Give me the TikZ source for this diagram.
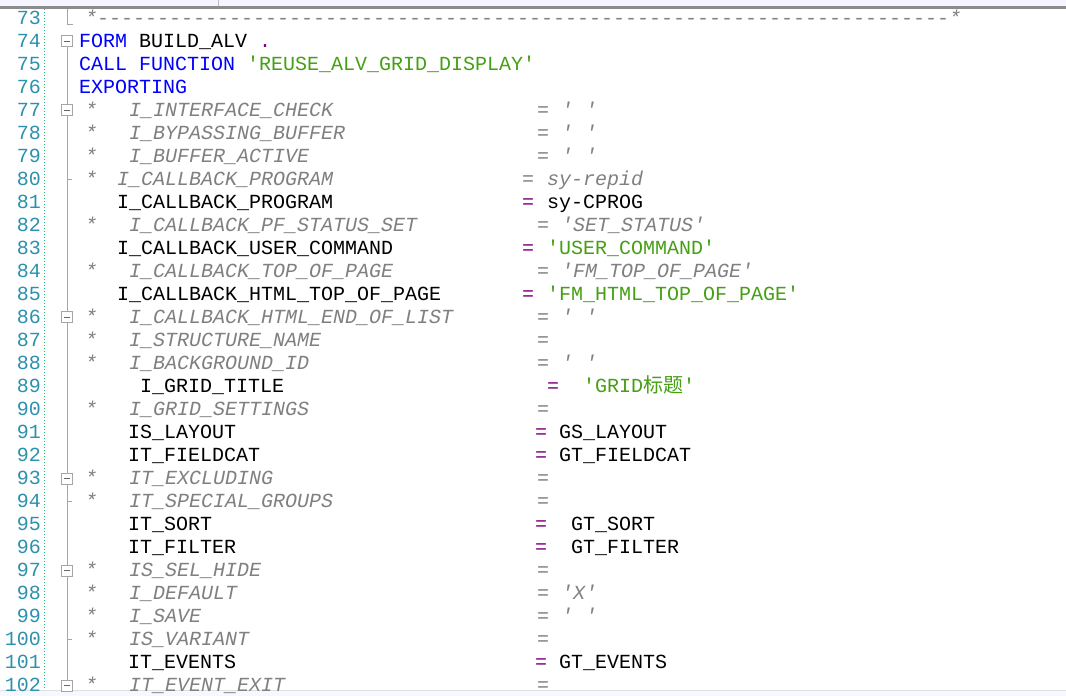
\documentclass[tikz,border=0pt]{standalone}
\usepackage{fontspec}
\newfontfamily\code{Liberation Mono}
\newfontfamily\cjk{Noto Sans CJK SC}
\definecolor{kw}{RGB}{0,0,255}
\definecolor{str}{RGB}{70,160,20}
\definecolor{cmt}{RGB}{128,128,128}
\definecolor{op}{RGB}{128,0,128}
\definecolor{lnum}{RGB}{43,145,175}
\definecolor{fold}{RGB}{165,165,165}
\def\q{\char39\relax}
\def\u{\char95\relax}
\newcount\dc
\def\dashes{\dc=0 \loop\char45\relax\advance\dc 1 \ifnum\dc<71 \repeat}
\tikzset{
  t/.style={anchor=base west,inner sep=0pt,font=\code\fontsize{20}{20}\selectfont},
  c/.style={t,text=cmt,font=\code\itshape\fontsize{20}{20}\selectfont},
  k/.style={t,text=kw},
  s/.style={t,text=str},
  o/.style={t,text=op},
  ln/.style={anchor=base east,inner sep=0pt,text=lnum,font=\code\fontsize{20}{20}\selectfont},
  fbox/.style={draw=fold,fill=white,line width=0.8pt}
}
\begin{document}
\begin{tikzpicture}[x=1pt,y=-1pt]
\useasboundingbox (0,0) rectangle (1066,696);
\fill[white] (0,0) rectangle (1066,696);
% top bar
\fill[black!3!blue!4!white] (0,0) rectangle (1066,6);
\draw[fold!70,line width=0.8pt] (218,0) -- (218,6);
\fill[black!45] (0,6) rectangle (1066,8.5);
% bottom bar
\fill[blue!3!white] (0,691) rectangle (1066,696);
\draw[black!12,line width=1pt] (0,690.5) -- (1066,690.5);
% gutter dotted line
\draw[lnum!70!green,dotted,line width=1pt] (44,9) -- (44,690);
% fold line
\draw[fold,line width=0.8pt] (67,9) -- (67,24) -- (73,24);
\draw[fold,line width=0.8pt] (67,36) -- (67,690);
\foreach \n in {80,94,100}{\draw[fold,line width=0.8pt] (67,{18+(\n-73)*23.03}) -- (72,{18+(\n-73)*23.03});}
\foreach \n in {74,77,86,93,97,102}{
  \pgfmathsetmacro\yy{18+(\n-73)*23.03}
  \draw[fold,fill=white,line width=0.8pt] (61.5,\yy-5.5) rectangle (72.5,\yy+5.5);
  \draw[black!60,line width=0.8pt] (64,\yy) -- (70,\yy);
}
% line numbers
\foreach \n [count=\i from 0] in {73,...,102}{
  \node[ln] (n\n) at (41,{24+\i*23.03}) {\n};
}
\def\Y#1{{24+(#1-73)*23.03}}
% 73
\node[c] (l73) at (85,\Y{73}) {*\dashes*};
% 74
\node[k] (a74) at (79,\Y{74}) {FORM};
\node[t] (b74) at (139,\Y{74}) {BUILD\u ALV};
\node[o] (d74) at (259,\Y{74}) {.};
% 75
\node[k] (a75) at (79,\Y{75}) {CALL FUNCTION};
\node[s] (b75) at (247,\Y{75}) {\q REUSE\u ALV\u GRID\u DISPLAY\q};
% 76
\node[k] (a76) at (79,\Y{76}) {EXPORTING};
% comment lines
\foreach \n/\txt/\x/\v in {77/I\u INTERFACE\u CHECK/129/\q\ \q, 78/I\u BYPASSING\u BUFFER/129/\q\ \q, 79/I\u BUFFER\u ACTIVE/129/\q\ \q}{
  \node[c] at (85,\Y{\n}) {*};
  \node[c] at (\x,\Y{\n}) {\txt};
  \node[c] at (537,\Y{\n}) {=};
  \node[c] at (561,\Y{\n}) {\v};
}
\node[c] (s80) at (85,\Y{80}) {*};
\node[c] (a80) at (117,\Y{80}) {I\u CALLBACK\u PROGRAM};
\node[c] (e80) at (522,\Y{80}) {=};
\node[c] (v80) at (547,\Y{80}) {sy-repid};
\node[t] (a81) at (117,\Y{81}) {I\u CALLBACK\u PROGRAM};
\node[o] (e81) at (522,\Y{81}) {=};
\node[t] (v81) at (547,\Y{81}) {sy-CPROG};
\node[c] (s82) at (85,\Y{82}) {*};
\node[c] (a82) at (129,\Y{82}) {I\u CALLBACK\u PF\u STATUS\u SET};
\node[c] (e82) at (537,\Y{82}) {=};
\node[c] (v82) at (561,\Y{82}) {\q SET\u STATUS\q};
\node[t] (a83) at (117,\Y{83}) {I\u CALLBACK\u USER\u COMMAND};
\node[o] (e83) at (522,\Y{83}) {=};
\node[s] (v83) at (547,\Y{83}) {\q USER\u COMMAND\q};
\node[c] (s84) at (85,\Y{84}) {*};
\node[c] (a84) at (129,\Y{84}) {I\u CALLBACK\u TOP\u OF\u PAGE};
\node[c] (e84) at (537,\Y{84}) {=};
\node[c] (v84) at (561,\Y{84}) {\q FM\u TOP\u OF\u PAGE\q};
\node[t] (a85) at (117,\Y{85}) {I\u CALLBACK\u HTML\u TOP\u OF\u PAGE};
\node[o] (e85) at (522,\Y{85}) {=};
\node[s] (v85) at (547,\Y{85}) {\q FM\u HTML\u TOP\u OF\u PAGE\q};
\foreach \n/\txt/\v in {86/I\u CALLBACK\u HTML\u END\u OF\u LIST/\q\ \q, 87/I\u STRUCTURE\u NAME/, 88/I\u BACKGROUND\u ID/\q\ \q, 90/I\u GRID\u SETTINGS/, 93/IT\u EXCLUDING/, 94/IT\u SPECIAL\u GROUPS/, 97/IS\u SEL\u HIDE/, 98/I\u DEFAULT/\q X\q, 99/I\u SAVE/\q\ \q, 100/IS\u VARIANT/, 102/IT\u EVENT\u EXIT/}{
  \node[c] at (85,\Y{\n}) {*};
  \node[c] at (129,\Y{\n}) {\txt};
  \node[c] at (537,\Y{\n}) {=};
  \node[c] at (561,\Y{\n}) {\v};
}
\node[t] (a89) at (140,\Y{89}) {I\u GRID\u TITLE};
\node[o] (e89) at (547,\Y{89}) {=};
\node[s] (v89) at (583,\Y{89}) {\q GRID{\cjk 标题}\q};
\foreach \n/\txt/\x/\v in {91/IS\u LAYOUT/559/GS\u LAYOUT, 92/IT\u FIELDCAT/559/GT\u FIELDCAT, 95/IT\u SORT/571/GT\u SORT, 96/IT\u FILTER/571/GT\u FILTER, 101/IT\u EVENTS/559/GT\u EVENTS}{
  \node[t] at (128,\Y{\n}) {\txt};
  \node[o] at (535,\Y{\n}) {=};
  \node[t] at (\x,\Y{\n}) {\v};
}
\end{tikzpicture}
\end{document}
